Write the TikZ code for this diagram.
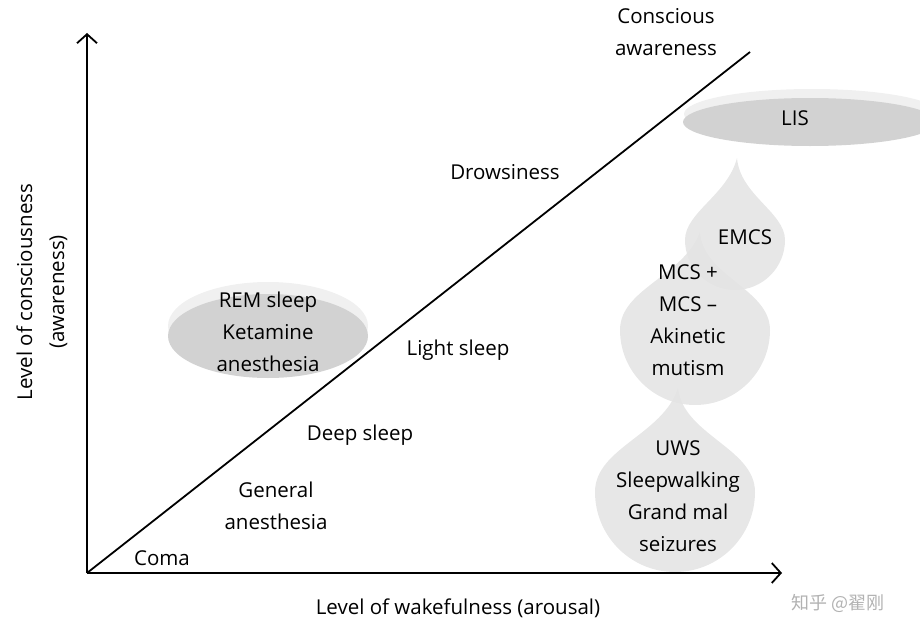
\documentclass[tikz,border=0pt]{standalone}
\usepackage{fontspec}
\usetikzlibrary{arrows.meta}
\setmainfont{Open Sans}
\newfontfamily\cjk{Noto Sans CJK SC}
\begin{document}
\begin{tikzpicture}[x=1pt,y=-1pt,
  lbl/.style={font=\fontsize{20.5}{32}\selectfont,align=center,inner sep=0pt},
  ax/.style={line width=1.8pt,-{Straight Barb[length=9pt,width=20pt]}},
  drop/.style={fill=gray!22,fill opacity=0.85,draw=none}]
\useasboundingbox (0,0) rectangle (920,642);
% drops
\newcommand{\mydrop}[5]{% tipx tipy cx cy r
  \fill[drop] (#1,#2) .. controls ({#3-0.15*#5},{#2+0.45*(#4-#2)}) and ({#3-#5},{#4-0.55*#5}) .. ({#3-#5},#4)
    arc[start angle=180,end angle=0,radius=#5]
    .. controls ({#3+#5},{#4-0.55*#5}) and ({#3+0.1*#5},{#2+0.45*(#4-#2)}) .. (#1,#2);}
\mydrop{737}{158}{735}{240}{50}
\mydrop{700}{232}{695}{330}{75}
\mydrop{678}{388}{675}{492}{80}
% ellipses
\fill[gray!12] (268,326) ellipse[x radius=100,y radius=44];
\fill[gray!35] (268,336) ellipse[x radius=100,y radius=42];
\fill[gray!12] (812,114) ellipse[x radius=128,y radius=25];
\fill[gray!35] (810,122) ellipse[x radius=127,y radius=24];
% axes
\coordinate (O) at (87,573);
\coordinate (Y) at (87,33);
\coordinate (X) at (782,573);
\coordinate (D) at (750,52);
\draw[ax] (O) -- (Y);
\draw[ax] (O) -- (X);
\draw[line width=1.8pt] (O) -- (D);
% labels
\node[lbl] (ca) at (666,32) {Conscious\\awareness};
\node[lbl] (dr) at (505,172) {Drowsiness};
\node[lbl] (rem) at (268,332) {REM sleep\\Ketamine\\anesthesia};
\node[lbl] (ls) at (458,350) {Light sleep};
\node[lbl] (ds) at (360,435) {Deep sleep};
\node[lbl] (ga) at (276,506) {General\\anesthesia};
\node[lbl] (coma) at (162,558) {Coma};
\node[lbl] (lis) at (795,118) {LIS};
\node[lbl] (emcs) at (745,237) {EMCS};
\node[lbl] (mcs) at (688,320) {MCS +\\MCS –\\Akinetic\\mutism};
\node[lbl] (uws) at (678,496) {UWS\\Sleepwalking\\Grand mal\\seizures};
\node[lbl,rotate=90] (yl) at (42,292) {Level of consciousness\\(awareness)};
\node[lbl] (xl) at (458,608) {Level of wakefulness (arousal)};
\node[lbl,text=gray!60,font=\cjk\fontsize{18}{20}\selectfont] (wm) at (838,603) {知乎 @翟刚};
\end{tikzpicture}
\end{document}
